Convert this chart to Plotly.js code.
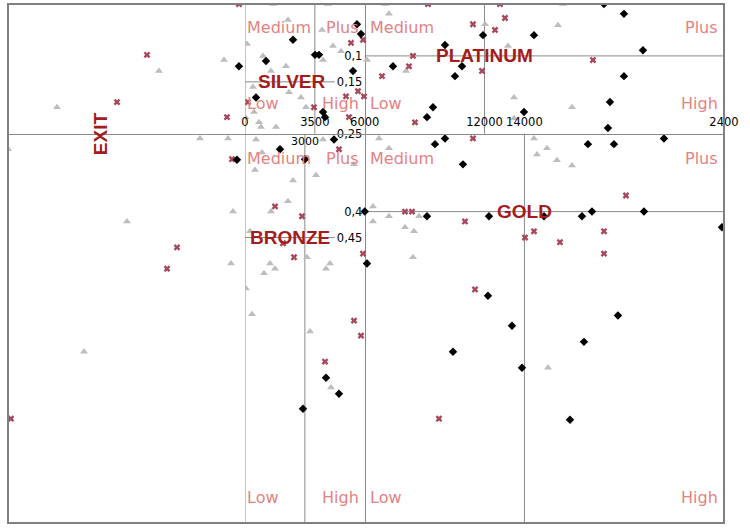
<!DOCTYPE html>
<html><head><meta charset="utf-8">
<script src="https://cdn.plot.ly/plotly-3.0.1.min.js"></script>
<style>html,body{margin:0;padding:0;background:#fff}#chart{width:750px;height:530px}</style>
</head><body><div id="chart"></div>
<script>
// ---------- DATA ----------
// Series 1: black diamonds
const diamondX = [-51,-68,
  5610,5812,2405,3507,3707,1052,5411,551,3908,4008,
  11924,10020,7415,10872,10521,9419,9118,17986,14479,18988,19940,18988,18287,13978,18186,
  4459,1754,3006,4058,4709,2906,
  6112,10020,9519,10922,6000,9118,12224,14980,16884,17385,19990,23898,20992,17184,18487,12174,18687,13377,16984,10421,13878,16283];
const diamondY = [0.12,0.30,
  0.039,0.058,0.069,0.098,0.098,0.110,0.129,0.180,0.208,0.218,
  0.060,0.079,0.120,0.120,0.139,0.199,0.218,0.0,0.060,0.019,0.089,0.139,0.189,0.208,0.239,
  0.261,0.280,0.299,0.720,0.751,0.780,
  0.500,0.259,0.270,0.309,0.400,0.409,0.409,0.409,0.409,0.400,0.400,0.430,0.259,0.270,0.270,0.562,0.600,0.620,0.651,0.670,0.701,0.801];
// Series 2: red crosses
const crossX = [-51,-827,-1080,-152,-110,-574,-658,-1975,
  5912,5311,5661,5962,5060,150,3457,5210,
  9168,11423,8417,8216,6864,11874,8517,12776,13026,12525,17435,
  4709,1503,2856,1904,2455,5912,5461,5812,4008,
  11423,8016,8367,11022,19088,14479,14028,17986,15782,17986,11523,9719];
const crossY = [0.0,0.098,0.189,0.218,0.299,0.469,0.510,0.799,
  0.069,0.075,0.168,0.178,0.178,0.189,0.199,0.218,
  0.0,0.039,0.100,0.120,0.139,0.129,0.228,0.0,0.027,0.050,0.108,
  0.280,0.390,0.409,0.461,0.488,0.481,0.610,0.639,0.689,
  0.259,0.400,0.400,0.419,0.369,0.438,0.450,0.438,0.459,0.481,0.550,0.799];
// Series 3: grey triangles
const triangleX = [-177,-726,-1587,-380,-143,-2000,-101,-996,-118,-1359,
  1403,4158,2154,3858,100,4409,4810,902,3908,2054,1303,401,2204,2806,3056,451,20,701,802,1553,
  7014,7214,12024,15932,15681,6112,8066,13176,13477,16383,13477,
  551,3908,852,5461,501,2405,3557,2154,1303,251,3106,1253,1503,952,4058,4259,50,351,3257,4309,
  6713,7214,14479,15130,14629,15631,16383,6413,7214,8717,6413,8016,8467,8417,15180];
const triangleY = [0.108,0.129,0.199,0.259,0.259,0.280,0.400,0.419,0.500,0.670,
  0.0,0.0,0.031,0.050,0.077,0.081,0.091,0.100,0.108,0.120,0.129,0.160,0.170,0.180,0.199,0.208,0.218,0.228,0.237,0.237,
  0.0,0.019,0.039,0.0,0.041,0.108,0.129,0.081,0.180,0.199,0.220,
  0.261,0.261,0.286,0.309,0.320,0.340,0.330,0.380,0.400,0.438,0.488,0.500,0.510,0.519,0.510,0.500,0.548,0.598,0.631,0.739,
  0.259,0.278,0.259,0.278,0.290,0.301,0.311,0.390,0.409,0.409,0.419,0.430,0.438,0.488,0.701];

// Axis ticks
const exitTickVals = [-2000];
const exitTickText = ['-2000'];
const xTickVals = [0, 3500, 6000, 12000, 14000, 24000];
const xTickText = ['0', '3500', '6000', '12000', '14000', '2400'];
const bronzeTickVals = [3000];
const bronzeTickText = ['3000'];
const yTickVals = [0, 0.1, 0.15, 0.25, 0.4, 0.45, 1];
const yTickText = ['0', '0,1', '0,15', '0,25', '0,4', '0,45', '1'];

// Segments
const segmentNames = ['SILVER', 'PLATINUM', 'BRONZE', 'GOLD'];
const segmentX0 = [0, 6000, 0, 6000];
const segmentX1 = [6000, 24000, 6000, 24000];
const segmentY0 = [0, 0, 0.25, 0.25];
const segmentY1 = [0.25, 0.25, 1, 1];
const segmentSplitX = [3500, 12000, 3000, 14000];
const segmentSplitY = [0.15, 0.1, 0.45, 0.4];
const tierLabels = ['Medium', 'Plus', 'Low', 'High'];
const exitName = 'EXIT';
const exitRange = [-2000, 0];
const mainRange = [0, 24000];
const valueRange = [1, 0];
const boundaryX = 6000;
const boundaryY = 0.25;

// ---------- LAYOUT CONSTANTS ----------
const W = 750, H = 530;
const M = {l: 8, r: 26, t: 4, b: 7};
const plotW = W - M.l - M.r;
const split = (245 - 8) / plotW;
const yAxisPos = split + (boundaryX - mainRange[0]) / (mainRange[1] - mainRange[0]) * (1 - split);
const axisPosY = 1 - (boundaryY - valueRange[1]) / (valueRange[0] - valueRange[1]);
const lineCol = '#8a8a8a';
const tierCol = '#e58282';
const nameCol = '#a41c1c';
const tickFont = {family: 'DejaVu Sans', size: 11.5, color: '#000'};

function splitTraces(xs, ys, marker) {
  const lx = [], ly = [], rx = [], ry = [];
  xs.forEach((x, i) => { if (x < 0) { lx.push(x); ly.push(ys[i]); } else { rx.push(x); ry.push(ys[i]); } });
  return [
    {type: 'scatter', mode: 'markers', x: lx, y: ly, xaxis: 'x', yaxis: 'y', marker: marker, showlegend: false, hoverinfo: 'x+y'},
    {type: 'scatter', mode: 'markers', x: rx, y: ry, xaxis: 'x2', yaxis: 'y', marker: marker, showlegend: false, hoverinfo: 'x+y'}
  ];
}

const data = [].concat(
  splitTraces(triangleX, triangleY, {symbol: 'triangle-up', size: 7, color: '#bdbdbd'}),
  splitTraces(crossX, crossY, {symbol: 'x', size: 6, color: '#a8485c'}),
  splitTraces(diamondX, diamondY, {symbol: 'diamond', size: 6.5, color: '#000'})
);

const shapes = [];
shapes.push({type: 'rect', xref: 'paper', yref: 'paper', x0: 0, x1: 1, y0: 0, y1: 1, line: {color: '#808080', width: 2}, layer: 'above'});
shapes.push({type: 'line', xref: 'x2', yref: 'y', x0: 0, x1: 0, y0: valueRange[1], y1: valueRange[0], line: {color: lineCol, width: 1}, layer: 'below'});
segmentNames.forEach((n, i) => {
  shapes.push({type: 'line', xref: 'x2', yref: 'y', x0: segmentSplitX[i], x1: segmentSplitX[i], y0: segmentY0[i], y1: segmentY1[i], line: {color: lineCol, width: 1}, layer: 'below'});
  const hEnd = segmentX1[i] === boundaryX ? segmentX1[i] - 1500 : segmentX1[i];
  shapes.push({type: 'line', xref: 'x2', yref: 'y', x0: segmentX0[i], x1: hEnd, y0: segmentSplitY[i], y1: segmentSplitY[i], line: {color: lineCol, width: 1}, layer: 'below'});
});

const annotations = [];
const nameX = [2350, 12000, 2250, 14000];
segmentNames.forEach((n, i) => {
  annotations.push({xref: 'x2', yref: 'y', x: nameX[i], y: segmentSplitY[i], text: n, showarrow: false,
    xanchor: 'center', yanchor: 'middle', font: {family: 'Liberation Sans', size: 19, color: nameCol, weight: 'bold'}});
  const top = segmentY0[i] === 0 ? 0.046 : 0.298;
  const bot = segmentY1[i] === 1 ? 0.95 : 0.191;
  const lf = segmentX0[i] === 0 ? 1 : 4;
  const tf = {family: 'DejaVu Sans', size: 16, color: tierCol};
  annotations.push({xref: 'x2', yref: 'y', x: segmentX0[i], y: top, text: tierLabels[0], showarrow: false, xanchor: 'left', yanchor: 'middle', xshift: lf, borderpad: 0, font: tf});
  annotations.push({xref: 'x2', yref: 'y', x: segmentX1[i], y: top, text: tierLabels[1], showarrow: false, xanchor: 'right', yanchor: 'middle', xshift: -5, borderpad: 0, font: tf});
  annotations.push({xref: 'x2', yref: 'y', x: segmentX0[i], y: bot, text: tierLabels[2], showarrow: false, xanchor: 'left', yanchor: 'middle', xshift: lf, borderpad: 0, font: tf});
  annotations.push({xref: 'x2', yref: 'y', x: segmentX1[i], y: bot, text: tierLabels[3], showarrow: false, xanchor: 'right', yanchor: 'middle', xshift: -5, borderpad: 0, font: tf});
});
annotations.push({xref: 'x', yref: 'y', x: -1220, y: boundaryY, text: exitName, textangle: -90, showarrow: false,
  font: {family: 'Liberation Sans', size: 19, color: nameCol, weight: 'bold'}});
bronzeTickVals.forEach((v, i) => {
  annotations.push({xref: 'x2', yref: 'y', x: v, y: boundaryY, text: bronzeTickText[i], showarrow: false,
    xanchor: 'center', yanchor: 'top', yshift: 0, borderpad: 0, font: {family: 'DejaVu Sans', size: 11, color: '#000'}});
});

const layout = {
  width: W, height: H,
  margin: M,
  paper_bgcolor: '#fff', plot_bgcolor: '#fff',
  showlegend: false,
  xaxis: {domain: [0, split], range: exitRange, anchor: 'free', position: axisPosY, side: 'top',
    showline: true, linecolor: lineCol, linewidth: 1, showgrid: false, zeroline: false, ticklabelstandoff: 3,
    tickmode: 'array', tickvals: exitTickVals, ticktext: exitTickText, ticks: '', tickfont: tickFont, fixedrange: true},
  xaxis2: {domain: [split, 1], range: mainRange, anchor: 'free', position: axisPosY, side: 'top',
    showline: true, linecolor: lineCol, linewidth: 1, showgrid: false, zeroline: false, ticklabelstandoff: 3,
    tickmode: 'array', tickvals: xTickVals, ticktext: xTickText, ticks: '', tickfont: tickFont, fixedrange: true},
  yaxis: {domain: [0, 1], range: valueRange, anchor: 'free', position: yAxisPos, side: 'left',
    showline: true, linecolor: lineCol, linewidth: 1, showgrid: false, zeroline: false,
    tickmode: 'array', tickvals: yTickVals, ticktext: yTickText, ticks: '', tickfont: tickFont, fixedrange: true},
  shapes: shapes,
  annotations: annotations
};

Plotly.newPlot('chart', data, layout, {displayModeBar: false, staticPlot: true});
</script>
</body></html>
